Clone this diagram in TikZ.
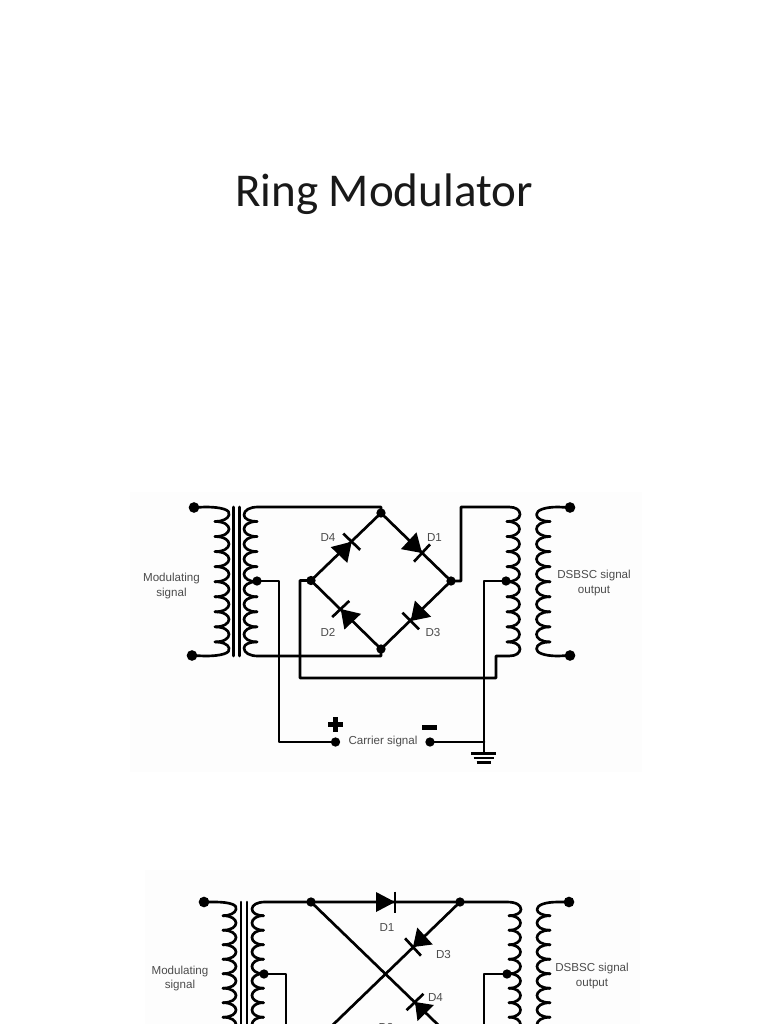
\documentclass[tikz,border=0pt]{standalone}
\usepackage{fontspec}
\setmainfont{Carlito}
\newfontfamily\labelfont{Liberation Sans}
\usetikzlibrary{calc}
\definecolor{faint}{gray}{0.994}
\definecolor{labelgray}{gray}{0.3}
\tikzset{
  wire/.style={line width=2pt,line join=round,line cap=round,black},
  dot/.style={circle,fill=black,inner sep=0pt,minimum size=7pt},
  bigdot/.style={circle,fill=black,inner sep=0pt,minimum size=8pt},
  lbl/.style={font=\labelfont\fontsize{8.7pt}{10.6pt}\selectfont,text=labelgray,align=center,inner sep=0pt},
  title/.style={font=\fontsize{35.3pt}{40pt}\selectfont,text=black!90,inner sep=0pt},
  panel/.style={fill=faint,draw=none}
}
% coil: tail x, bulge x, first tail y, pitch, number of bumps
\newcommand{\coilbumps}[5]{%
  \pgfmathsetmacro{\ctrlx}{#1+(#2-#1)/0.75}%
  \foreach \i in {1,...,#5}{%
    \pgfmathsetmacro{\ya}{#3+(\i-1)*#4}%
    \pgfmathsetmacro{\yb}{#3+\i*#4}%
    \draw[wire] (#1,\ya) .. controls (\ctrlx,\ya) and (\ctrlx,\yb) .. (#1,\yb);%
  }%
}
% diode: name prefix, tip (bar centre) , base centre
\newcommand{\diodesym}[3]{%
  \coordinate (#1t) at (#2);
  \coordinate (#1b) at (#3);
  \fill[black] ($(#1b)!8.6pt!90:(#1t)$) -- (#1t) -- ($(#1b)!8.6pt!-90:(#1t)$) -- cycle;
  \draw[wire,line cap=butt] ($(#1t)!8.8pt!90:(#1b)$) -- ($(#1t)!8.8pt!-90:(#1b)$);
}
\begin{document}
\begin{tikzpicture}[x=0.75pt,y=-0.75pt]
\useasboundingbox (0,0) rectangle (768,1024);
\clip (0,0) rectangle (768,1024);
\fill[white] (0,0) rectangle (768,1024);
\fill[panel] (130,492) rectangle (642,772);
\fill[panel] (145,870) rectangle (640,1024);

\node[title] (ttl) at (384,194) {Ring Modulator};

% ---------- first circuit ----------
\node[bigdot] (inT) at (194,507.5) {};
\node[bigdot] (inB) at (192,655.5) {};
\node[dot] (tapL) at (257,581) {};
\node[dot] (top) at (381,513) {};
\node[dot] (right) at (451,581) {};
\node[dot] (bot) at (381,649) {};
\node[dot] (left) at (311,580.5) {};
\node[dot] (tapR) at (506,581) {};
\node[bigdot] (outT) at (570,507.5) {};
\node[bigdot] (outB) at (570,655.5) {};
\node[dot] (carP) at (335.5,742) {};
\node[dot] (carN) at (430,742) {};
\coordinate (gnd) at (484,753);

\coilbumps{215}{229}{521.5}{15.05}{8}
\draw[wire] (inT.center) -- (205,507) .. controls (222,507) and (231,510) .. (229,515) .. controls (228,519) and (222,521.5) .. (215,521.5);
\draw[wire] (inB.center) -- (205,656) .. controls (222,656) and (231,653) .. (229,648) .. controls (228,644) and (222,641.9) .. (215,641.9);
\draw[wire] (233.5,507) -- (233.5,656);
\draw[wire] (239.5,507) -- (239.5,656);
\coilbumps{257}{244}{521.5}{15.05}{8}
\draw[wire] (257,521.5) .. controls (250,521.5) and (244,519) .. (244,515) .. controls (244,510) and (250,507) .. (258,507) -- (381,507) -- (top.center);
\draw[wire] (257,641.9) .. controls (250,641.9) and (244,644) .. (244,648) .. controls (244,653) and (250,656) .. (258,656) -- (381,656) -- (bot.center);

\draw[wire] (top.center) -- (right.center) -- (bot.center) -- (left.center) -- cycle;
\diodesym{dA}{351.7,541.7}{339,555}
\diodesym{dB}{340.7,609}{352.7,621.7}
\diodesym{dC}{422,553}{408.7,540.7}
\diodesym{dD}{410.7,621}{423,608.7}

\coilbumps{507}{519.5}{521.5}{15.05}{8}
\draw[wire] (right.center) -- (461,581) -- (461,507) -- (509,507) .. controls (516,507) and (520,510) .. (520,514.5) .. controls (520,519) and (514,521.5) .. (507,521.5);
\draw[wire] (507,641.9) .. controls (514,641.9) and (520,644) .. (520,649) .. controls (520,653) and (516,656) .. (509,656) -- (496,656) -- (496,678) -- (300,678) -- (300,580.5) -- (left.center);
\draw[wire] (tapR.center) -- (484,581) -- (gnd);
\coilbumps{550}{536.5}{521.5}{15.05}{8}
\draw[wire] (outT.center) -- (558,507) .. controls (545,507) and (536.5,510) .. (536.5,514.5) .. controls (536.5,519) and (543,521.5) .. (550,521.5);
\draw[wire] (outB.center) -- (558,656) .. controls (545,656) and (536.5,653) .. (536.5,649) .. controls (536.5,644) and (543,641.9) .. (550,641.9);

\draw[wire] (tapL.center) -- (279,581) -- (279,742) -- (carP.center);
\draw[wire] (carN.center) -- (484,742);
\draw[wire,line cap=butt] (471,753.5) -- (496,753.5);
\draw[wire,line cap=butt] (473.5,758) -- (493.5,758);
\draw[wire,line cap=butt] (476.5,762.5) -- (490.5,762.5);
\fill[black] (327.5,722) rectangle (343,727);
\fill[black] (333,716.5) rectangle (338,732);
\fill[black] (421.5,725) rectangle (436.5,729.5);

\node[lbl] (m1) at (171.5,586) {Modulating\\signal};
\node[lbl] (d4) at (328,537.5) {D4};
\node[lbl] (d2) at (328,632.5) {D2};
\node[lbl] (d1) at (434.5,537.5) {D1};
\node[lbl] (d3) at (433,632.5) {D3};
\node[lbl] (o1) at (594,583) {DSBSC signal\\output};
\node[lbl] (cs) at (383,741) {Carrier signal};

% ---------- second circuit ----------
\node[bigdot] (inT2) at (204,902) {};
\node[dot] (tapL2) at (264,974) {};
\node[dot] (nA) at (311,902) {};
\node[dot] (nB) at (460,902) {};
\node[dot] (tapR2) at (507,974) {};
\node[bigdot] (outT2) at (569,902) {};
\coordinate (lowR) at (460,1046);
\coordinate (lowL) at (311,1046);

\coilbumps{223}{236}{915.7}{14.5}{8}
\draw[wire] (inT2.center) -- (215,902) .. controls (230,902) and (238,905) .. (236,909.5) .. controls (235,913) and (230,915.7) .. (223,915.7);
\draw[wire] (241,902) -- (241,1030);
\draw[wire] (247,902) -- (247,1030);
\coilbumps{263.5}{252}{915.7}{14.5}{8}
\draw[wire] (263.5,915.7) .. controls (257,915.7) and (252,913) .. (252,909) .. controls (252,905) and (257,902) .. (265,902) -- (nA.center);
\draw[wire] (nA.center) -- (nB.center) -- (507,902) .. controls (516,902) and (521,905) .. (521,909.5) .. controls (521,913) and (516,915.7) .. (509,915.7);
\coilbumps{509}{520.5}{915.7}{14.5}{8}
\coilbumps{550}{537}{915.7}{14.5}{8}
\draw[wire] (outT2.center) -- (558,902) .. controls (545,902) and (537,905) .. (537,909.5) .. controls (537,913) and (543,915.7) .. (550,915.7);
\draw[wire] (tapL2.center) -- (286,974) -- (286,1030);
\draw[wire] (tapR2.center) -- (484,974) -- (484,1030);
\draw[wire] (nA.center) -- (lowR);
\draw[wire] (nB.center) -- (lowL);
\fill[black] (376,892) -- (395,902) -- (376,912) -- cycle;
\draw[wire,line cap=butt] (395,891.5) -- (395,912.5);
\diodesym{dE}{413,947}{425,936}
\diodesym{dF}{415,1002}{425.7,1013}

\node[lbl] (m2) at (180,978.5) {Modulating\\signal};
\node[lbl] (e1) at (387,927) {D1};
\node[lbl] (e3) at (443.5,954) {D3};
\node[lbl] (e4) at (435.5,997.5) {D4};
\node[lbl] (e2) at (386,1027) {D2};
\node[lbl] (o2) at (592,976) {DSBSC signal\\output};
\end{tikzpicture}
\end{document}
